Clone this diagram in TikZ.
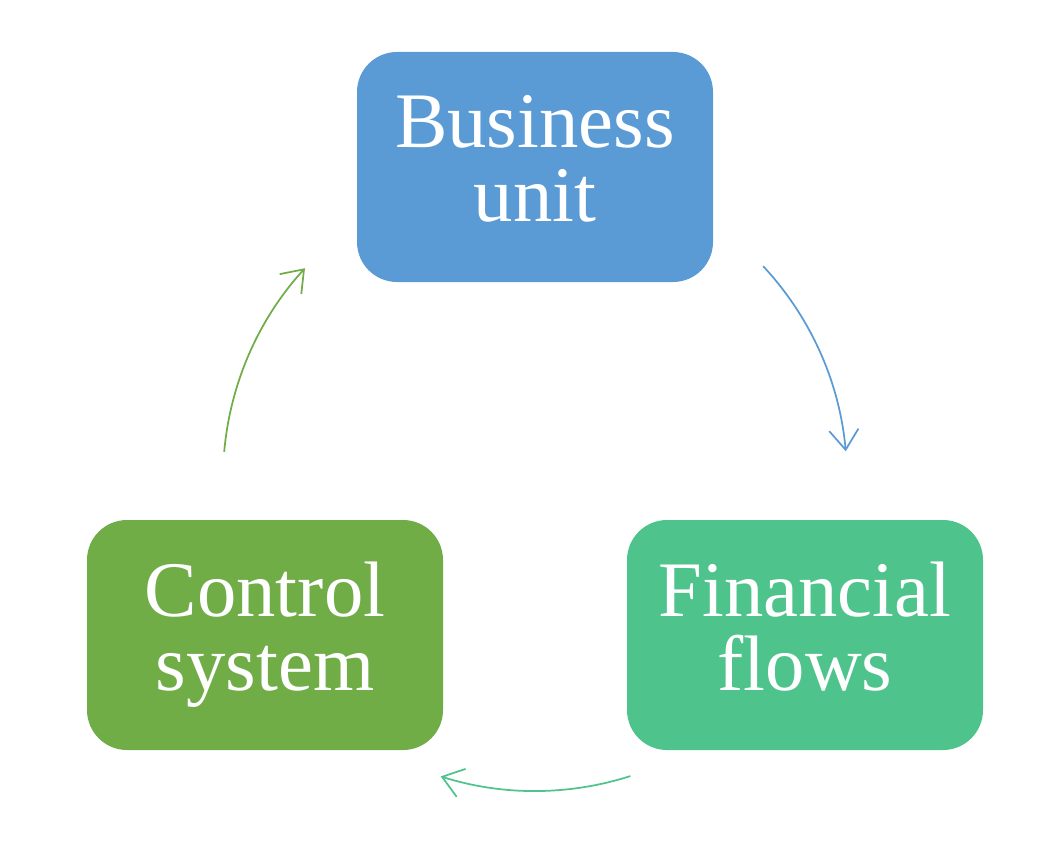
\documentclass[tikz,border=0pt]{standalone}
\usepackage{fontspec}
\setmainfont{Liberation Serif}
\usetikzlibrary{arrows.meta, calc}
\definecolor{bizblue}{HTML}{5B9BD5}
\definecolor{flowgreen}{HTML}{4EC48C}
\definecolor{ctrlgreen}{HTML}{70AD47}
\begin{document}
\begin{tikzpicture}[x=0.75pt, y=0.75pt,
  unitbox/.style={rounded corners=30pt, minimum width=267pt, minimum height=172.5pt,
    align=center, text=white, inner sep=0pt,
    font=\fontsize{59}{56}\selectfont,
    execute at end node={\rule[-13pt]{0pt}{0pt}}},
  cycarrow/.style={line width=1.3pt, -{Straight Barb[length=15pt, width=22pt, line width=1.3pt]}}]
  \useasboundingbox (0,0) rectangle (1062,844);
  \coordinate (c) at (535,365);
  \node[unitbox, fill=bizblue] (biz) at (535,677) {Business\\unit};
  \node[unitbox, fill=flowgreen] (flow) at (805,209) {Financial\\flows};
  \node[unitbox, fill=ctrlgreen] (ctrl) at (265,209) {Control\\system};
  % arcs of the cycle
  \coordinate (a1) at ($(c)+(43:234pt)$);
  \coordinate (a2) at ($(c)+(-72.2:234pt)$);
  \coordinate (a3) at ($(c)+(175:234pt)$);
  \draw[cycarrow, bizblue] (a1) arc[start angle=43, end angle=5.1, radius=234pt];
  \draw[cycarrow, flowgreen] (a2) arc[start angle=-72.2, end angle=-107.6, radius=234pt];
  \draw[cycarrow, ctrlgreen] (a3) arc[start angle=175, end angle=137.5, radius=234pt];
\end{tikzpicture}
\end{document}
